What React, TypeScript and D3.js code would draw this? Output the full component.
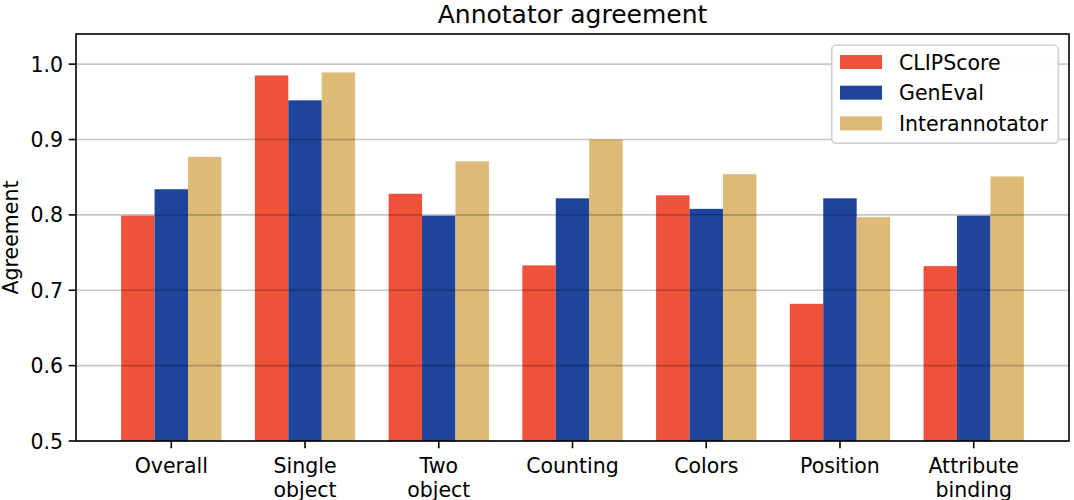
import React from "react";
import * as d3 from "d3";

const categories: string[][] = [
  ["Overall"],
  ["Single", "object"],
  ["Two", "object"],
  ["Counting"],
  ["Colors"],
  ["Position"],
  ["Attribute", "binding"],
];
const clipScore = [0.799, 0.985, 0.828, 0.733, 0.826, 0.682, 0.732];
const genEval = [0.834, 0.952, 0.799, 0.822, 0.808, 0.822, 0.799];
const interannotator = [0.877, 0.989, 0.871, 0.9, 0.854, 0.797, 0.851];
const seriesNames = ["CLIPScore", "GenEval", "Interannotator"];
const seriesColors = ["#EF513A", "#1F449C", "#DDBB77"];
const yTicks = [0.5, 0.6, 0.7, 0.8, 0.9, 1.0];

const W = 1074;
const H = 500;
const L = 76, R = 1069, T = 34, B = 441;
const FONT = "DejaVu Sans, sans-serif";
const FS = 20.5;

export default function App() {
  const series = [clipScore, genEval, interannotator];
  const n = categories.length;
  const barW = 0.25;
  const x = d3.scaleLinear().domain([-0.7125, n - 1 + 0.7125]).range([L, R]);
  const y = d3.scaleLinear().domain([0.5, 1.04]).range([B, T]);

  return (
    <svg width={W} height={H} style={{ position: "absolute", left: 0, top: 0 }} fontFamily={FONT}>
      <rect x={0} y={0} width={W} height={H} fill="#fff" />
      {/* bars */}
      {series.map((vals, si) =>
        vals.map((v, i) => {
          const cx = i + (si - 1) * barW;
          const x0 = x(cx - barW / 2);
          const x1 = x(cx + barW / 2);
          return (
            <rect key={`${si}-${i}`} x={x0} y={y(v)} width={x1 - x0} height={y(0.5) - y(v)} fill={seriesColors[si]} />
          );
        })
      )}
      {/* grid */}
      {yTicks.map((t) => (
        <line key={t} x1={L} x2={R} y1={y(t)} y2={y(t)} stroke="#000" strokeOpacity={0.22} strokeWidth={1.6} />
      ))}
      {/* spines */}
      <rect x={L} y={T} width={R - L} height={B - T} fill="none" stroke="#000" strokeWidth={1.6} />
      {/* y ticks */}
      {yTicks.map((t) => (
        <g key={t}>
          <line x1={L - 7.3} x2={L} y1={y(t)} y2={y(t)} stroke="#000" strokeWidth={1.6} />
          <text x={L - 13} y={y(t) + 7.5} fontSize={FS} textAnchor="end" fill="#000">
            {t.toFixed(1)}
          </text>
        </g>
      ))}
      {/* x ticks */}
      {categories.map((c, i) => (
        <g key={i}>
          <line x1={x(i)} x2={x(i)} y1={B} y2={B + 7.3} stroke="#000" strokeWidth={1.6} />
          <text x={x(i)} fontSize={FS} textAnchor="middle" fill="#000">
            {c.map((line, li) => (
              <tspan key={li} x={x(i)} y={B + 31.5 + li * 24}>
                {line}
              </tspan>
            ))}
          </text>
        </g>
      ))}
      {/* y label */}
      <text transform={`translate(18,${(T + B) / 2}) rotate(-90)`} fontSize={FS} textAnchor="middle" fill="#000">
        Agreement
      </text>
      {/* title */}
      <text x={(L + R) / 2} y={22.5} fontSize={25} textAnchor="middle" fill="#000">
        Annotator agreement
      </text>
      {/* legend */}
      <rect x={831.7} y={45.3} width={226.6} height={98} rx={4} fill="#fff" fillOpacity={0.9} stroke="#d0d0d0" strokeWidth={1.6} />
      {seriesNames.map((name, si) => {
        const cy = 62 + si * 30.7;
        return (
          <g key={name}>
            <rect x={840} y={cy - 7} width={42} height={14} fill={seriesColors[si]} />
            <text x={899} y={cy + 7.5} fontSize={FS} fill="#000">
              {name}
            </text>
          </g>
        );
      })}
    </svg>
  );
}
